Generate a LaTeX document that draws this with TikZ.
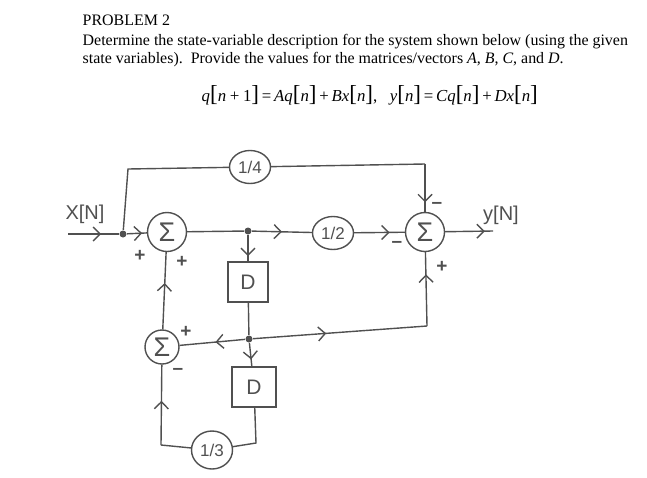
\documentclass[tikz,border=0pt]{standalone}
\usepackage{fontspec}
\setmainfont{Liberation Serif}
\setsansfont{Liberation Sans}
\usetikzlibrary{arrows.meta,decorations.markings,shapes.geometric}
\definecolor{cink}{RGB}{80,80,80}
\newcommand{\brk}[1]{{\fontsize{23}{23}\selectfont[}\textit{#1}{\fontsize{23}{23}\selectfont]}}
\tikzset{
  diagram/.style={x=1pt,y=-1pt,line width=1.4pt,draw=cink,text=cink},
  flow/.style={postaction={decorate,decoration={markings,mark=at position #1 with {\arrow{Straight Barb[length=7pt,width=14pt,line width=1.4pt]}}}}},
  sumnode/.style={draw,circle,minimum size=39pt,inner sep=0pt,font=\sffamily\fontsize{27}{27}\selectfont},
  gain/.style={draw,ellipse,minimum width=41pt,minimum height=33pt,inner sep=0pt,font=\sffamily\fontsize{17}{17}\selectfont},
  delay/.style={draw,rectangle,minimum width=40pt,minimum height=40pt,inner sep=0pt,font=\sffamily\fontsize{21}{21}\selectfont},
  junction/.style={fill=cink,circle,minimum size=7pt,inner sep=0pt},
  sign/.style={font=\sffamily\bfseries\fontsize{19}{19}\selectfont},
  hand/.style={font=\sffamily\fontsize{20}{20}\selectfont},
  printed/.style={anchor=base west,text=black,font=\fontsize{15.95}{18}\selectfont,inner sep=0pt}
}
\begin{document}
\begin{tikzpicture}[diagram]
    \useasboundingbox (0,0) rectangle (647,477);
    % problem text
    \node[printed] (title) at (82,25) {PROBLEM 2};
    \node[printed] (lineone) at (82,45) {Determine the state-variable description for the system shown below (using the given};
    \node[printed] (linetwo) at (82,63) {state variables).\ \ Provide the values for the matrices/vectors \textit{A}, \textit{B}, \textit{C}, and \textit{D}.};
    \node[printed,font=\fontsize{16.8}{18}\selectfont] (eqn) at (201,101) {\textit{q}\brk{n\,+\,\textup{1}}\,=\,\textit{Aq}\brk{n}\,+\,\textit{Bx}\brk{n},\ \ \ \textit{y}\brk{n}\,=\,\textit{Cq}\brk{n}\,+\,\textit{Dx}\brk{n}};
    % blocks
    \node[sumnode] (sumin) at (167,232) {Σ};
    \node[sumnode] (sumout) at (425,232) {Σ};
    \node[sumnode,minimum size=34pt] (sumlow) at (162,347) {Σ};
    \node[gain] (gainq) at (250,167) {1/4};
    \node[gain] (gainh) at (333,233) {1/2};
    \node[gain,minimum height=38pt] (gaint) at (212,450) {1/3};
    \node[delay] (delayone) at (248,282) {D};
    \node[delay,minimum width=44pt] (delaytwo) at (254,387) {D};
    \node[junction] (jin) at (123,234) {};
    \node[junction] (jmid) at (248,231) {};
    \node[junction] (jlow) at (249,339) {};
    \coordinate (start) at (68,234);
    \coordinate (stop) at (493,231);
    \coordinate (topl) at (128,169);
    \coordinate (topr) at (425,164);
    \coordinate (lowr) at (427,326);
    \coordinate (botl) at (161,445);
    \coordinate (botr) at (256,443);
    % connectors
    \draw[flow=.65] (start) -- (jin);
    \draw[flow=.76] (jin) -- (sumin);
    \draw (jin) -- (topl) -- (gainq);
    \draw (gainq) -- (topr);
    \draw[flow=.8] (topr) -- (sumout);
    \draw (sumin) -- (jmid);
    \draw[flow=.5] (jmid) -- (gainh);
    \draw[flow=.7] (gainh) -- (sumout);
    \draw[flow=.83] (sumout) -- (stop);
    \draw[flow=.8] (jmid) -- (delayone);
    \draw (delayone) -- (jlow);
    \draw[flow=.45] (jlow) -- (sumlow);
    \draw[flow=.7] (jlow) -- (delaytwo);
    \draw[flow=.42] (jlow) -- (lowr);
    \draw[flow=.7] (lowr) -- (sumout);
    \draw (delaytwo) -- (botr) -- (gaint);
    \draw (gaint) -- (botl);
    \draw[flow=.55] (botl) -- (sumlow);
    \draw[flow=.6] (sumlow) -- (sumin);
    % signs and signal names
    \node[sign] (pa) at (140,256) {+};
    \node[sign] (pb) at (182,262) {+};
    \node[sign] (pc) at (442,267) {+};
    \node[sign] (pd) at (186,332) {+};
    \node[sign] (ma) at (437,205) {--};
    \node[sign] (mb) at (397,244) {--};
    \node[sign] (mc) at (178,371) {--};
    \node[hand] (xname) at (85,214) {X[N]};
    \node[hand] (yname) at (501,215) {y[N]};
\end{tikzpicture}
\end{document}
